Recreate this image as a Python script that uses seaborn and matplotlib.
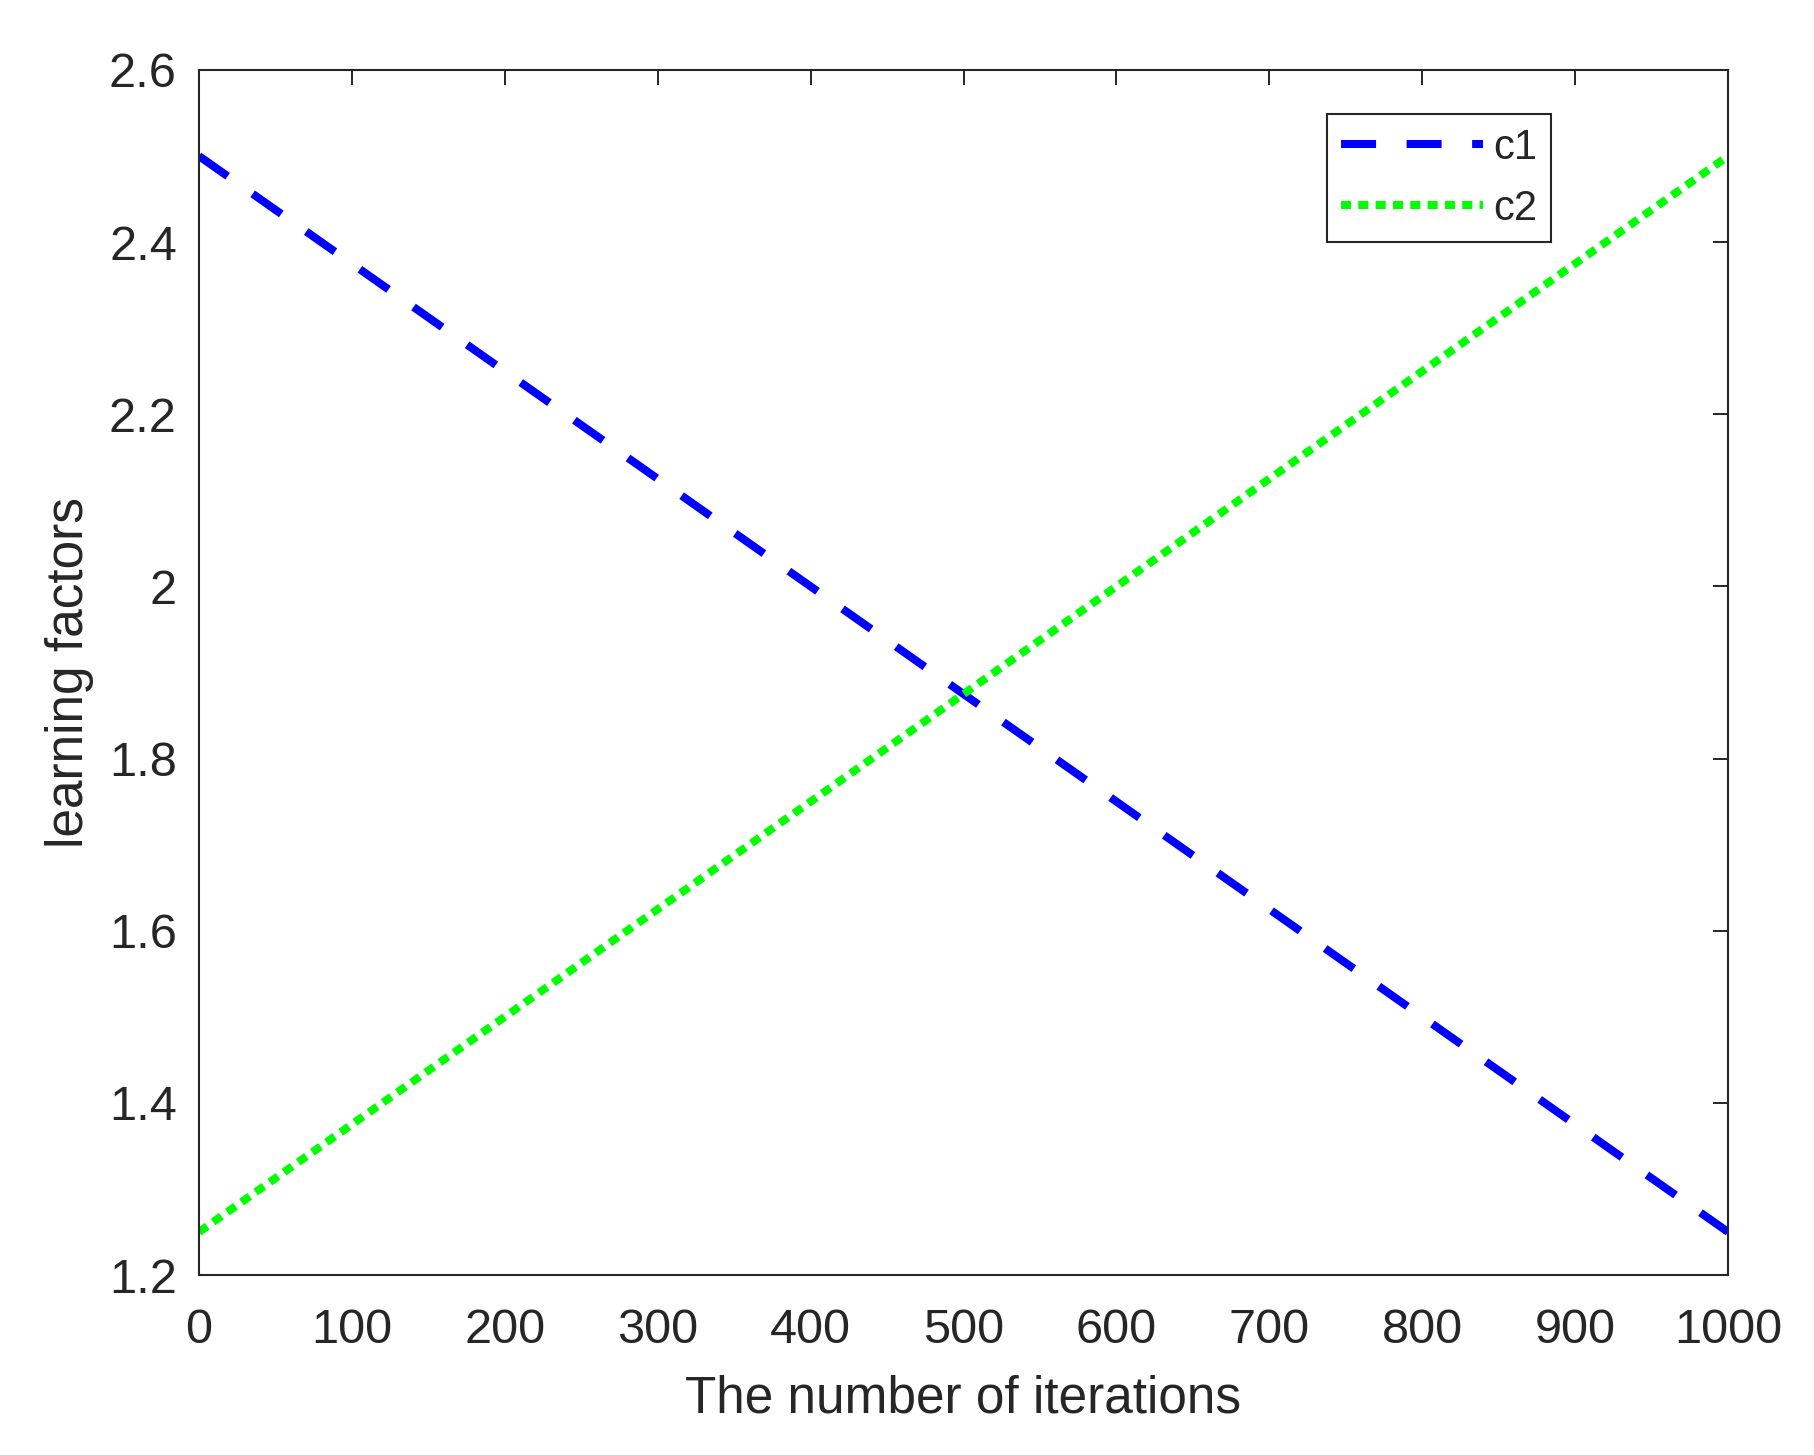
import numpy as np
import pandas as pd
import matplotlib
matplotlib.use('Agg')
import matplotlib.pyplot as plt
import matplotlib.ticker as mticker
import seaborn as sns

# values
iterations = [0, 100, 200, 300, 400, 500, 600, 700, 800, 900, 1000]
c1 = [2.5, 2.375, 2.25, 2.125, 2.0, 1.875, 1.75, 1.625, 1.5, 1.375, 1.25]
c2 = [1.25, 1.375, 1.5, 1.625, 1.75, 1.875, 2.0, 2.125, 2.25, 2.375, 2.5]
x_ticks = [0, 100, 200, 300, 400, 500, 600, 700, 800, 900, 1000]
y_ticks = [1.2, 1.4, 1.6, 1.8, 2.0, 2.2, 2.4, 2.6]

df = pd.DataFrame({'iter': iterations, 'c1': c1, 'c2': c2})

sns.set_theme(style='white')
plt.rcParams['font.family'] = ['Liberation Sans', 'DejaVu Sans']
plt.rcParams.update({
    'axes.edgecolor': '#262626',
    'axes.linewidth': 1.5,
    'xtick.color': '#262626',
    'ytick.color': '#262626',
    'xtick.labelcolor': '#262626',
    'ytick.labelcolor': '#262626',
    'text.color': '#262626',
    'axes.labelcolor': '#262626',
})

fig = plt.figure(figsize=(18.14, 14.55), dpi=100)
ax = fig.add_axes([0.1097, 0.1237, 0.8429, 0.8282])

sns.lineplot(data=df, x='iter', y='c1', ax=ax, color='#0000ff', linewidth=5.8,
             linestyle=(0, (4.35, 3.79)), label='c1')
sns.lineplot(data=df, x='iter', y='c2', ax=ax, color='#00ff00', linewidth=5.8,
             linestyle=(0, (1.25, 0.9)), label='c2')

ax.set_xlim(0, 1000)
ax.set_ylim(1.2, 2.6)
ax.set_xticks(x_ticks)
ax.set_yticks(y_ticks)
ax.yaxis.set_major_formatter(mticker.FuncFormatter(lambda v, p: '%g' % v))
ax.tick_params(direction='in', length=11, width=1.4, top=True, right=True,
               labelsize=35)
ax.tick_params(axis='x', pad=24)
ax.tick_params(axis='y', pad=16)
ax.set_xlabel('The number of iterations', fontsize=37, labelpad=15)
ax.set_ylabel('learning factors', fontsize=37, labelpad=11)
for s in ax.spines.values():
    s.set_visible(True)

leg = ax.legend(loc='upper right', bbox_to_anchor=(0.8842, 0.9635),
                borderaxespad=0, fontsize=30, frameon=True, fancybox=False,
                framealpha=1, edgecolor='#262626', handlelength=3.4,
                handletextpad=0.25, labelspacing=0.5, borderpad=0.33)
leg.get_frame().set_linewidth(1.5)

plt.savefig('out.png', dpi=100)
plt.close()
